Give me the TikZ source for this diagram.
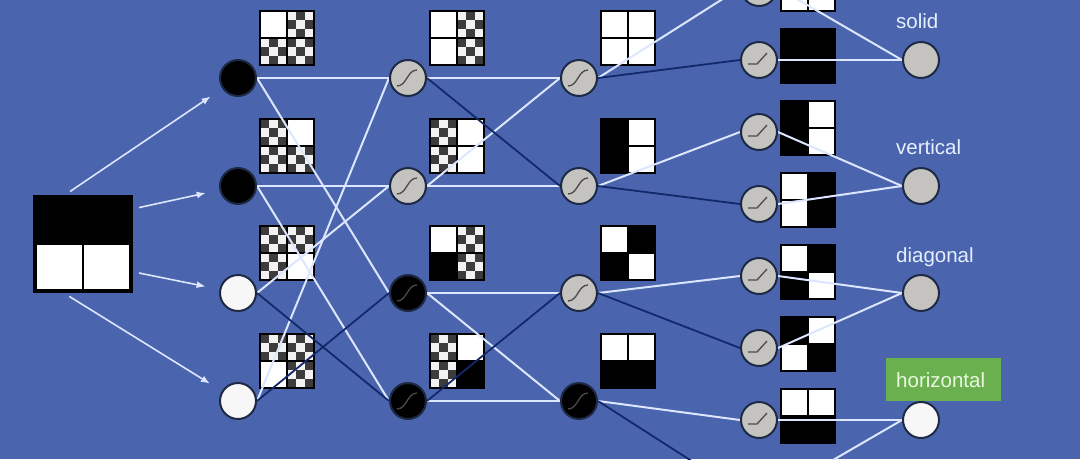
\documentclass[tikz,border=0pt]{standalone}
\usepackage{fontspec}
\setmainfont{Liberation Sans}
\usepackage{tikz}
\usetikzlibrary{arrows.meta}
\tikzset{>={Latex[length=9pt,width=7pt]}}
\definecolor{slide}{HTML}{4A65AD}
\definecolor{wirec}{HTML}{DCE6FF}
\definecolor{negwirec}{HTML}{13286A}
\definecolor{unitgray}{HTML}{C4C3BF}
\definecolor{nodewhite}{HTML}{F7F7F7}
\definecolor{ring}{HTML}{1E2A45}
\definecolor{glyphc}{HTML}{4A4A4A}
\definecolor{tagc}{HTML}{6AB04E}
\definecolor{tagtext}{HTML}{E8F8E0}
\definecolor{lbltext}{HTML}{E6EEFF}
\definecolor{checkdark}{HTML}{3C3C3C}
\definecolor{checklight}{HTML}{F2F2F2}
\pgfdeclarelayer{back}
\pgfdeclarelayer{wires}
\pgfsetlayers{back,wires,main}
\newcommand{\qw}[3]{\fill[white] (#1,#2) rectangle ++(27,27);}
\newcommand{\qk}[3]{\fill[black] (#1,#2) rectangle ++(27,27);}
\newcommand{\qc}[3]{\fill[checklight] (#1,#2) rectangle ++(27,27);
  \foreach \i in {0,1,2} \foreach \j in {0,1,2} {
    \pgfmathtruncatemacro{\odd}{mod(\i+\j+#3,2)}
    \ifnum\odd=0 \fill[checkdark] ({#1+9*\i},{#2+9*\j}) rectangle ++(9,9); \fi}}
\newcommand{\patbox}[6]{%
  #3{#1-27}{#2-27}{0} #4{#1}{#2-27}{1} #5{#1-27}{#2}{1} #6{#1}{#2}{0}
  \draw[divider] (#1,#2-27) -- (#1,#2+27) (#1-27,#2) -- (#1+27,#2);
  \draw[boxframe] (#1-27,#2-27) rectangle (#1+27,#2+27);}

\begin{document}
\begin{tikzpicture}[x=1pt,y=-1pt]
            \tikzset{unit/.style = {circle, minimum size=36pt, inner sep=0pt, draw=ring, line width=2pt, fill=#1},
                     unit/.default = unitgray,
                     glyph/.style = {draw=glyphc, line width=1.3pt},
                     sigma/.style = {path picture={\draw[glyph] ([shift={(-11,8)}]path picture bounding box.center) .. controls +(10,0) and +(-10,0) .. ([shift={(9,-8)}]path picture bounding box.center);}},
                     relu/.style = {path picture={\draw[glyph] ([shift={(-11,4)}]path picture bounding box.center) -- ++(9,0) -- ++(10,-11);}},
                     wire/.style = {draw=wirec, line width=2pt},
                     negwire/.style = {draw=negwirec, line width=1.8pt},
                     divider/.style = {draw=black, line width=1.5pt},
                     boxframe/.style = {draw=black, line width=2pt},
                     lbl/.style = {anchor=base west, inner sep=0pt, text=lbltext, font=\fontsize{20.5}{24}\selectfont},
                     tagbox/.style = {anchor=north west, fill=tagc, minimum height=43pt, text width=95pt, inner xsep=10pt, inner ysep=0pt, align=left, text=tagtext, font=\fontsize{20.5}{24}\selectfont}}
            \useasboundingbox (0,0) rectangle (1080,459);
            \node[fill=black, minimum width=100pt, minimum height=98pt, inner sep=0pt] (img) at (83,244) {};
            \fill[white] (37,245) rectangle (81.5,289);
            \fill[white] (83.5,245) rectangle (129,289);
            \foreach \n/\y/\c in {1/78/black, 2/186/black, 3/293/nodewhite, 4/401/nodewhite}
                \node[unit=\c] (in\n) at (238,\y) {};
            \foreach \n/\y/\c in {1/78/unitgray, 2/186/unitgray, 3/293/black, 4/401/black}
                \node[unit=\c, sigma] (a\n) at (408,\y) {};
            \foreach \n/\y/\c in {1/78/unitgray, 2/186/unitgray, 3/293/unitgray, 4/401/black}
                \node[unit=\c, sigma] (b\n) at (579,\y) {};
            \foreach \n in {0,...,7} {
                \pgfmathsetmacro{\y}{-12 + 72*\n}
                \node[unit, relu] (c\n) at (759,\y) {};
            }
            \node[unit] (osolid) at (921,60) {};
            \node[unit] (overt) at (921,186) {};
            \node[unit] (odiag) at (921,293) {};
            \node[unit=nodewhite] (ohoriz) at (921,420) {};
            \node[lbl] (tsolid) at (896,28) {solid};
            \node[lbl] (tvert) at (896,154) {vertical};
            \node[lbl] (tdiag) at (896,262) {diagonal};
            \node[tagbox] (thoriz) at (886,358) {horizontal};
            \begin{pgfonlayer}{wires}
                \foreach \a/\t in {110/in1, 35/in2, -29/in3, 249/in4}
                    \draw[wire, line width=1.6pt, ->, shorten <=6pt, shorten >=14pt] (img.\a) -- (\t);
                \foreach \s/\t in {in1/a1, in4/a1, in2/a2, in3/a2, in1/a3, in2/a4,
                                   a1/b1, a2/b1, a2/b2, a3/b3, a3/b4, a4/b4,
                                   b1/c0, b2/c2, b3/c4, b4/c6,
                                   c0/osolid, c1/osolid, c2/overt, c3/overt, c4/odiag, c5/odiag, c6/ohoriz, c7/ohoriz}
                    \draw[wire] (\s.east) -- (\t.west);
                \foreach \s/\t in {in4/a3, in3/a4, a1/b2, a4/b3, b1/c1, b2/c3, b3/c5, b4/c7}
                    \draw[negwire] (\s.east) -- (\t.west);
            \end{pgfonlayer}
            \begin{pgfonlayer}{back}
                \fill[slide] (0,0) rectangle (1080,459);
                \patbox{287}{38}{\qw}{\qc}{\qc}{\qc}
                \patbox{287}{146}{\qc}{\qw}{\qc}{\qc}
                \patbox{287}{253}{\qc}{\qc}{\qc}{\qw}
                \patbox{287}{361}{\qc}{\qc}{\qw}{\qc}
                \patbox{457}{38}{\qw}{\qc}{\qw}{\qc}
                \patbox{457}{146}{\qc}{\qw}{\qc}{\qw}
                \patbox{457}{253}{\qw}{\qc}{\qk}{\qc}
                \patbox{457}{361}{\qc}{\qw}{\qc}{\qk}
                \patbox{628}{38}{\qw}{\qw}{\qw}{\qw}
                \patbox{628}{146}{\qk}{\qw}{\qk}{\qw}
                \patbox{628}{253}{\qw}{\qk}{\qk}{\qw}
                \patbox{628}{361}{\qw}{\qw}{\qk}{\qk}
                \patbox{808}{-16}{\qw}{\qw}{\qw}{\qw}
                \patbox{808}{56}{\qk}{\qk}{\qk}{\qk}
                \patbox{808}{128}{\qk}{\qw}{\qk}{\qw}
                \patbox{808}{200}{\qw}{\qk}{\qw}{\qk}
                \patbox{808}{272}{\qw}{\qk}{\qk}{\qw}
                \patbox{808}{344}{\qk}{\qw}{\qw}{\qk}
                \patbox{808}{416}{\qw}{\qw}{\qk}{\qk}
                \patbox{808}{488}{\qk}{\qk}{\qw}{\qw}
            \end{pgfonlayer}
        \end{tikzpicture}
\end{document}
